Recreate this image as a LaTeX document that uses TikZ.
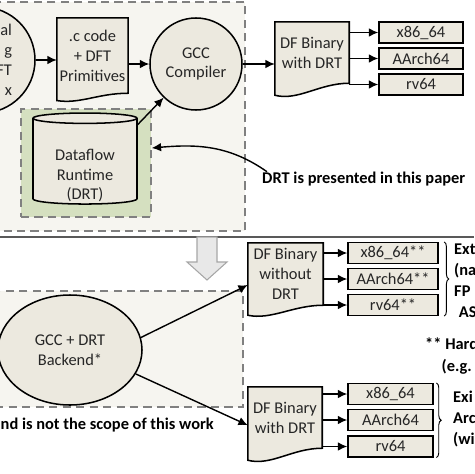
\documentclass[tikz,border=0pt]{standalone}
\usepackage{fontspec}
\setmainfont{Carlito}
\usepackage{tikz}
\usetikzlibrary{positioning,shapes.geometric,arrows.meta,decorations.pathreplacing,calc}
\definecolor{shapefill}{RGB}{236,233,223}
\definecolor{regionfill}{RGB}{246,245,240}
\definecolor{runtimegreen}{RGB}{213,224,192}
\definecolor{dashgray}{RGB}{128,128,128}
\definecolor{hollowgray}{RGB}{232,232,232}
\pgfdeclarelayer{regions}
\pgfdeclarelayer{docs}
\pgfsetlayers{regions,docs,main}
% wavy document outline behind a docnode
\newcommand{\docoutline}[2][3mm]{%
  \begin{pgfonlayer}{docs}
    \draw[shapeline,fill=shapefill] ([yshift=-#1]#2.south west) -- (#2.north west) -- (#2.north east) -- (#2.south east)
      .. controls ([xshift=-9mm]#2.south east) and ([xshift=7mm,yshift=-1.5*#1]#2.south west) .. ([yshift=-#1]#2.south west) -- cycle;
  \end{pgfonlayer}}

\begin{document}
\begin{tikzpicture}[x=0.03cm,y=-0.03cm,
    every node/.style={font=\fontsize{14}{17}\selectfont,text=black!85},
    shapeline/.style={draw=black,line width=1.3pt},
    proc/.style={shapeline,circle,fill=shapefill,inner sep=0pt,align=center},
    docnode/.style={rectangle,inner sep=0pt,align=center},
    isabox/.style={shapeline,rectangle,fill=shapefill,inner sep=0pt,minimum height=0.62cm},
    region/.style={draw=dashgray,line width=1.3pt,dash pattern=on 7pt off 4.5pt},
    arr/.style={-{Latex[length=2.8mm,width=2.6mm]},line width=1.2pt},
    note/.style={font=\bfseries\fontsize{14}{18}\selectfont,align=left,inner sep=0pt,text=black}]

    \useasboundingbox (0,0) rectangle (474,474);

    % Regions
    \begin{pgfonlayer}{regions}
        \draw[region,fill=regionfill] (-10,2) rectangle (245,231);
        \draw[region,fill=regionfill] (-10,291) rectangle (243,407);
        \node[region,fill=runtimegreen,minimum width=3.9cm,minimum height=3.24cm] (runtimebox) at (86,163) {};
    \end{pgfonlayer}

    % Divider and hollow arrow
    \draw[black!65,line width=0.9pt] (0,237) -- (474,237);
    \draw[draw=black!35,fill=hollowgray,line width=0.9pt]
        (197,237) -- (217,237) -- (217,262) -- (227,262) -- (207,280) -- (187,262) -- (197,262) -- cycle;

    % Compile flow
    \node[proc,minimum size=3.18cm,text width=1.8cm,align=right] (source) at (-18,60) {al\\g\\FT\\x};
    \node[docnode,minimum width=2.13cm,minimum height=2.25cm] (ccode) at (92.5,55.5) {.c code\\+ DFT\\Primitives};
    \docoutline[2.2mm]{ccode}
    \node[proc,minimum size=2.76cm] (gcc) at (196,64) {GCC\\Compiler};
    \node[docnode,minimum width=2.22cm,minimum height=1.83cm] (binTop) at (312,52.5) {DF Binary\\with DRT};
    \docoutline[3.6mm]{binTop}
    \foreach \name/\lab/\y in {topX/x86\_64/32.5, topA/AArch64/58.5, topR/rv64/84.5}
        \node[isabox,minimum width=2.52cm] (\name) at (421,\y) {\lab};

    \draw[arr] (source.east) -- (source.east -| ccode.west);
    \draw[arr] (gcc.west -| ccode.east) -- (gcc.west);
    \draw[arr] (gcc.east) -- (gcc.east -| binTop.west);
    \foreach \name in {topX,topA,topR}
        \draw[arr] (\name.west -| binTop.east) -- (\name.west);

    % Runtime
    \node[shapeline,cylinder,shape border rotate=90,aspect=0.17,fill=shapefill,
        minimum width=3.12cm,minimum height=2.73cm,inner sep=0pt,text width=1.83cm,
        label={[align=center,yshift=-4.2mm]center:Dataflow\\Runtime\\(DRT)}] (drt) at (85,161.5) {};
    \draw[arr] (drt.35) -- (gcc);
    \node[note,anchor=west] (paper) at (262,179) {DRT is presented in this paper};
    \draw[arr] ([xshift=1.5mm]paper.north west) to[out=145,in=5] ([yshift=4.5mm]runtimebox.east);

    % Backend
    \node[proc,ellipse,minimum width=4.32cm,minimum height=3.3cm] (backend) at (70,350) {GCC + DRT\\Backend*};
    \node[note,anchor=east] (scope) at (214,425) {nd is not the scope of this work};

    \node[docnode,minimum width=2.25cm,minimum height=1.86cm] (binA) at (285.5,274) {DF Binary\\without\\DRT};
    \docoutline{binA}
    \node[docnode,minimum width=2.22cm,minimum height=1.83cm] (binB) at (285,417.5) {DF Binary\\with DRT};
    \docoutline[3.6mm]{binB}
    \draw[arr] (backend.10) -- ([yshift=-3.3mm]binA.west);
    \draw[arr] (backend.-20) -- ([yshift=-2.3mm]binB.west);

    \foreach \name/\lab/\y in {aX/x86\_64**/253, aA/AArch64**/279, aR/rv64**/305}
        \node[isabox,minimum width=2.7cm] (\name) at (393,\y) {\lab};
    \foreach \name/\lab/\y in {bX/x86\_64/394, bA/AArch64/420, bR/rv64/446.5}
        \node[isabox,minimum width=2.55cm] (\name) at (390.5,\y) {\lab};
    \foreach \name in {aX,aA,aR}
        \draw[arr] (\name.west -| binA.east) -- (\name.west);
    \foreach \name in {bX,bA,bR}
        \draw[arr] (\name.west -| binB.east) -- (\name.west);

    % Braces and notes
    \draw[line width=0.8pt,decorate,decoration={brace,amplitude=4pt}]
        ([xshift=1.6mm]aX.north east) -- ([xshift=1.6mm]aR.south east);
    \draw[line width=0.8pt,decorate,decoration={brace,amplitude=4pt}]
        ([xshift=0.8mm]bX.north east) -- ([xshift=0.8mm]bR.south east);
    \node[note,anchor=west] (extnote) at (454,281) {Ext\\(na\\FP\\\hspace*{4pt}AS};
    \node[note,anchor=west] (hardnote) at (425,356) {** Hard\\\hspace*{14pt}(e.g.};
    \node[note,anchor=west] (exinote) at (453,419) {Exi\\Arc\\(wi};

\end{tikzpicture}
\end{document}
